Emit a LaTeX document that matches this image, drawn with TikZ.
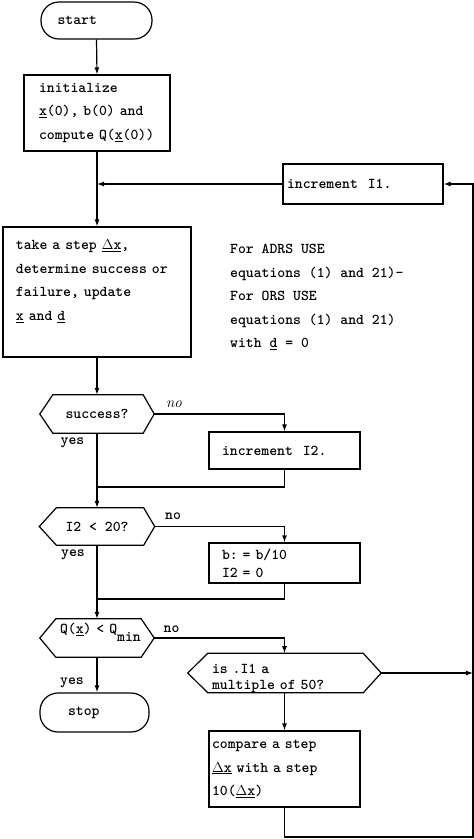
\documentclass[tikz,border=0pt]{standalone}
\usepackage{fontspec}
\usetikzlibrary{arrows.meta}

\newcommand{\flowfont}{\ttfamily\bfseries\fontsize{15}{23.5}\selectfont}

\tikzset{
  box/.style={draw, line width=1.2pt, inner sep=0pt, align=left, font=\flowfont},
  term/.style={box, rounded corners=18pt},
  hexa/.style={inner sep=0pt, minimum height=38pt, font=\flowfont},
  tag/.style={inner sep=0pt, font=\flowfont},
  line/.style={line width=1.2pt},
  >={Latex[length=7pt,width=5pt]}
}

\begin{document}
\begin{tikzpicture}[x=1pt,y=-1pt]
\useasboundingbox (0,0) rectangle (474,839);

% left column
\node[term, minimum width=111pt, minimum height=37pt, text width=78pt] (start) at (96.5,20.5) {start};
\node[box, minimum width=146pt, minimum height=76pt, text width=116pt] (init) at (97,113)
  {initialize\\ \underline{x}(0),~b(0)~and\\ compute~Q(\underline{x}(0))};
\node[box, minimum width=188pt, minimum height=130pt, text width=162pt] (step) at (97,292)
  {take a step \underline{$\Delta$x},\\ determine success or\\ failure, update\\ \underline{x} and \underline{d}\\ \mbox{}};
\node[hexa, minimum width=114pt] (succ) at (97,414) {success?};
\node[hexa, minimum width=115pt, minimum height=37pt] (itwo) at (97,526.5) {I2~<~20?};
\node[hexa, minimum width=114pt, text width=74pt, align=left, text height=11pt, text depth=20pt] (qmin) at (97,638)
  {Q(\underline{x})~<~Q\raisebox{-8pt}{min}};
\node[term, minimum width=109pt, minimum height=39pt, text width=53pt] (stop) at (94.5,712.5) {stop};

% right column
\node[box, minimum width=160pt, minimum height=40pt, text width=152pt] (incone) at (363,184) {increment~~I1.};
\node[box, minimum width=151pt, minimum height=37pt, text width=125pt] (inctwo) at (284.5,450.5) {increment~~I2.};
\node[box, minimum width=151pt, minimum height=40pt, text width=125pt] (reset) at (284.5,563)
  {b:~=~b/10\\[-5.5pt] I2~=~0};
\node[hexa, minimum width=193pt, text width=145pt, align=left] (mult) at (284.5,673)
  {\rule{0pt}{20pt}is .I1 a\\[-7.5pt] multiple~of~50?};
\node[box, minimum width=151pt, minimum height=76pt, text width=145pt] (cmp) at (284.5,769)
  {compare a step\\ \underline{$\Delta$x} with a step\\ 10(\underline{$\Delta$x})};

% note
\node[tag, anchor=west, align=left] (note) at (230,297)
  {For ADRS USE\\ equations (1) and 21)-\\ For ORS USE\\ equations (1) and 21)\\ with \underline{d} = 0};

% yes / no
\node[tag, font=\rmfamily\itshape\fontsize{15}{18}\selectfont] (noone) at (174,404) {no};
\node[tag] (notwo) at (173,516) {no};
\node[tag] (nothree) at (171.5,629) {no};
\node[tag] (yesone) at (72.5,443) {yes};
\node[tag] (yestwo) at (73,555) {yes};
\node[tag] (yesthree) at (72,683) {yes};

% hexagons
\foreach \n/\dl/\dr in {succ/13/11, itwo/17/11, qmin/16/13, mult/20/18}
  \draw[line] (\n.west) -- ([xshift=\dl pt]\n.north west) -- ([xshift=-\dr pt]\n.north east) -- (\n.east)
    -- ([xshift=-\dr pt]\n.south east) -- ([xshift=\dl pt]\n.south west) -- cycle;

\coordinate (jone) at (97,487);
\coordinate (jtwo) at (97,599);
\coordinate (loop) at (473,837);

% connectors
\draw[line,->] (start.south) -- (init.north);
\draw[line,->] (init.south) -- (step.north);
\draw[line,->] (incone.west) -- (incone.west -| step.north);
\draw[line,->] (step.south) -- (succ.north);
\draw[line,->] (succ.east) -| (inctwo.north);
\draw[line] (inctwo.south) |- (jone);
\draw[line,->] (succ.south) -- (itwo.north);
\draw[line,->] (itwo.east) -| (reset.north);
\draw[line] (reset.south) |- (jtwo);
\draw[line,->] (itwo.south) -- (qmin.north);
\draw[line,->] (qmin.east) -| (mult.north);
\draw[line,->] (qmin.south) -- (qmin.south |- stop.north);
\draw[line,->] (mult.south) -- (cmp.north);
\draw[line,->] (mult.east) -- (mult.east -| loop);
\draw[line,->] (cmp.south) |- (loop) |- (incone.east);
\end{tikzpicture}
\end{document}
